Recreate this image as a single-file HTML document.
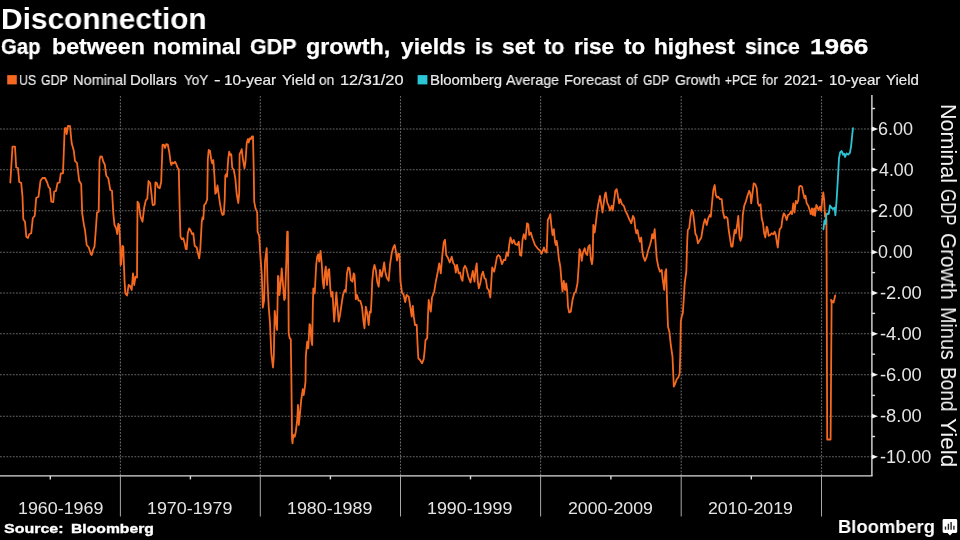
<!DOCTYPE html>
<html><head><meta charset="utf-8">
<style>
html,body{margin:0;padding:0;background:#000;}
body{width:960px;height:540px;position:relative;overflow:hidden;font-family:"Liberation Sans",sans-serif;color:#fff;}
.t{will-change:transform;position:absolute;white-space:nowrap;line-height:1;transform-origin:0 0;display:block;}
svg{position:absolute;left:0;top:0;}
.stk{-webkit-text-stroke:0.35px #fff;}
.lg{-webkit-text-stroke:0.2px #ececec;}
.sb{-webkit-text-stroke:0.25px #fff;}
</style></head><body>
<svg id="chart" width="960" height="540" viewBox="0 0 960 540">
<g stroke="#666" stroke-width="1.1" stroke-dasharray="1.8 1.4" fill="none"><line x1="0" y1="129.0" x2="871.9" y2="129.0"/><line x1="0" y1="169.7" x2="871.9" y2="169.7"/><line x1="0" y1="210.7" x2="871.9" y2="210.7"/><line x1="0" y1="252.2" x2="871.9" y2="252.2"/><line x1="0" y1="293.0" x2="871.9" y2="293.0"/><line x1="0" y1="333.8" x2="871.9" y2="333.8"/><line x1="0" y1="374.7" x2="871.9" y2="374.7"/><line x1="0" y1="416.2" x2="871.9" y2="416.2"/><line x1="0" y1="456.8" x2="871.9" y2="456.8"/><line x1="120.4" y1="96" x2="120.4" y2="475.9"/><line x1="260.3" y1="96" x2="260.3" y2="475.9"/><line x1="400.5" y1="96" x2="400.5" y2="475.9"/><line x1="540.6" y1="96" x2="540.6" y2="475.9"/><line x1="681.2" y1="96" x2="681.2" y2="475.9"/><line x1="821.5" y1="96" x2="821.5" y2="475.9"/></g>
<g stroke="#dcdcdc" stroke-width="1.4" fill="none"><line x1="0" y1="475.9" x2="872.5" y2="475.9"/><line x1="871.9" y1="95" x2="871.9" y2="475.9"/><line x1="871.9" y1="108.5" x2="875.1" y2="108.5"/><line x1="871.9" y1="149.3" x2="875.1" y2="149.3"/><line x1="871.9" y1="190.2" x2="875.1" y2="190.2"/><line x1="871.9" y1="231.4" x2="875.1" y2="231.4"/><line x1="871.9" y1="272.6" x2="875.1" y2="272.6"/><line x1="871.9" y1="313.4" x2="875.1" y2="313.4"/><line x1="871.9" y1="354.2" x2="875.1" y2="354.2"/><line x1="871.9" y1="395.4" x2="875.1" y2="395.4"/><line x1="871.9" y1="436.5" x2="875.1" y2="436.5"/><line x1="50.3" y1="475.9" x2="50.3" y2="479.4"/><line x1="190.4" y1="475.9" x2="190.4" y2="479.4"/><line x1="330.4" y1="475.9" x2="330.4" y2="479.4"/><line x1="470.5" y1="475.9" x2="470.5" y2="479.4"/><line x1="610.9" y1="475.9" x2="610.9" y2="479.4"/><line x1="751.3" y1="475.9" x2="751.3" y2="479.4"/></g>
<g stroke="#a8a8a8" stroke-width="1" fill="none"><line x1="120.4" y1="475.9" x2="120.4" y2="516.5"/><line x1="260.3" y1="475.9" x2="260.3" y2="516.5"/><line x1="400.5" y1="475.9" x2="400.5" y2="516.5"/><line x1="540.6" y1="475.9" x2="540.6" y2="516.5"/><line x1="681.2" y1="475.9" x2="681.2" y2="516.5"/><line x1="821.5" y1="475.9" x2="821.5" y2="516.5"/></g>
<g fill="#f4f4f4" stroke="none"><path d="M871.9 126.6 L878.1 129.0 L871.9 131.4 Z"/><path d="M871.9 167.29999999999998 L878.1 169.7 L871.9 172.1 Z"/><path d="M871.9 208.29999999999998 L878.1 210.7 L871.9 213.1 Z"/><path d="M871.9 249.79999999999998 L878.1 252.2 L871.9 254.6 Z"/><path d="M871.9 290.6 L878.1 293.0 L871.9 295.4 Z"/><path d="M871.9 331.40000000000003 L878.1 333.8 L871.9 336.2 Z"/><path d="M871.9 372.3 L878.1 374.7 L871.9 377.09999999999997 Z"/><path d="M871.9 413.8 L878.1 416.2 L871.9 418.59999999999997 Z"/><path d="M871.9 454.40000000000003 L878.1 456.8 L871.9 459.2 Z"/></g>
<path d="M10.3,182.5 L12.5,146.7 L15,146.7 L16.2,167.5 L18,168 L19.2,182 L21.2,182.8 L22.5,196.7 L23.3,219.2 L25,221.7 L26.3,236.7 L28,238 L29.2,234.2 L31.2,233.3 L32.8,218.3 L34.7,215.8 L36.2,198 L38.5,196.7 L40.5,180.8 L42.5,178 L45,178 L47.2,182.5 L48.5,186.8 L50,188.5 L51.3,201.7 L53.3,202 L54.2,191.5 L56,190.8 L57.5,183.2 L59.5,182.5 L60.8,173.3 L63,173.3 L64.7,128.3 L65.8,128 L66.7,134.2 L68,125.8 L70,126.2 L71.7,143.3 L73.8,150.8 L75,160.8 L77,163 L79.2,180.8 L81.2,184.2 L82.2,213.3 L83.8,224.2 L85,230 L86.7,245 L88.8,247.5 L90.8,254.2 L91.7,255 L93,250 L94.5,246.7 L95.8,230 L97,212.5 L98.7,211.7 L99.5,160 L100.5,156.3 L102,156.7 L103.3,161.7 L104.7,164.2 L106.3,175.8 L108.3,178.3 L110.3,190 L112,190.8 L113.3,213.3 L114.5,225 L116.2,228.3 L117.2,234.2 L118.3,223.7 L119.2,225 L120.3,246.7 L120.6,265 L121.2,264.2 L122.5,245.8 L123.3,246.7 L124.5,280 L125.3,293.3 L127,295.5 L128.7,285 L130,285.8 L131.7,290 L133,273.3 L134.2,285 L135.5,276.7 L137,277.5 L137.5,201.7 L138.7,203.3 L140.5,216.7 L142.5,221.7 L144.2,207.5 L145.8,200.4 L147.3,198.7 L148.5,181 L150.2,183 L151.7,196 L152.5,204 L153,205.3 L154.7,204.5 L155.4,182.5 L156.7,182.8 L158,187.3 L159.7,188.3 L161.2,181.7 L162.5,145 L163.8,144.7 L165,148 L166.2,144.2 L167.8,144.7 L169.2,151.7 L170.5,161.7 L171.3,165 L172.5,162.5 L173.8,163.3 L175,161.7 L176.3,164.2 L177.5,167.5 L178.8,169.2 L179.7,210 L180.5,236.7 L181.7,239.2 L183.3,238.3 L184.7,243.3 L185.8,249.2 L186.7,249.2 L187.8,233.3 L189.2,228.3 L190.8,230.8 L192.2,234.2 L193.3,233.3 L194.7,245.8 L196.7,247.5 L197.8,252.5 L199.2,258.3 L200.3,249.2 L201.7,222.5 L202.5,217.5 L203.3,219.2 L204.2,205 L205.8,203.3 L207.2,199.2 L207.8,160 L208.7,150 L210,150.8 L211.3,160 L212.2,163.3 L213.3,160 L214.5,176.7 L215.3,193.8 L216.2,192.5 L217.5,185.5 L218.3,191.7 L219.7,201.7 L221.2,210.8 L222.5,215 L223.8,214.2 L224.7,200 L225.3,175.8 L226.2,174.2 L227,176.7 L228.3,158.3 L229.2,151.7 L230.3,155 L231.3,154.2 L232.2,167.5 L233.8,170 L235.3,178.3 L236.7,194 L238.3,203 L239.2,193.3 L239.6,154.2 L240.5,152.5 L241.7,149.2 L242.8,158.3 L244.5,168.3 L245.5,161.7 L246.7,143.3 L247.8,139.2 L248.7,142.5 L249.7,138.3 L250.8,139.2 L252,136.3 L253,136.3 L253.7,168.3 L254.2,201.7 L255.5,208.3 L257.2,212.5 L257.6,231.7 L259.2,236 L260.2,253 L261.8,275 L262.8,307.5 L264.2,300 L265,261.7 L266.7,248.2 L267.5,281.7 L268.7,306.7 L270,323.3 L271.3,353.3 L273,367.5 L273.8,356.7 L274.7,310.8 L275.8,320 L277,330 L277.6,300 L278,275.8 L278.5,276.7 L279.5,295 L280.8,281.7 L281.7,268.3 L282.8,281.7 L284.2,300 L285,298.3 L286.2,265 L287.2,231.7 L287.8,231.7 L288.5,300 L288.7,333.3 L289.7,338.3 L290.8,339.2 L291.4,380 L291.7,406.7 L292,438.3 L292.5,443.3 L293.3,435 L294.7,436.7 L295.8,431.7 L297.2,420 L298,405 L298.8,425 L300,413.3 L301.2,400 L302.2,393.3 L302.8,389.2 L303.7,395 L304.7,388.3 L305.5,381.7 L305.8,356.7 L307.2,341.7 L308.3,348.3 L309.5,324.2 L310.3,325 L311.3,340 L312.2,345 L312.8,306.7 L313.3,288.5 L314.7,293.5 L316.2,265 L317.2,256.7 L318.3,254.2 L319.2,261.7 L320.5,250.8 L321.7,263.3 L322.8,281.7 L323.8,288.3 L325,271.7 L325.8,266.7 L327,285 L328.3,270 L329.2,269.2 L330.3,288.3 L331.3,296.7 L332.5,292 L333.3,306.7 L334.2,321.7 L335.3,306.7 L336.3,292.5 L337.5,306.7 L338.7,321.7 L340,315 L341.7,303.3 L343,295 L344.7,290 L345.8,291.7 L347,273.3 L348.3,267.5 L349.5,268.3 L350.8,280 L352.5,281.7 L353.7,273.3 L354.5,275 L355.3,288.3 L355.8,299.2 L357,295 L358.5,300.5 L360.3,300.8 L362,306.7 L363.3,320 L364.5,328.3 L365.8,306.7 L367.2,313.3 L368.7,325 L369.7,311.7 L370.8,312.5 L371.6,298.3 L372.2,281.7 L373.3,270 L374.5,265 L375.8,270 L377.2,281.7 L378.7,286.7 L380,270 L381.7,276.7 L383,270 L384.2,262.5 L385.3,271.7 L386.7,277.5 L388.7,280.8 L390,265 L391.7,253.3 L393.3,247.5 L394.7,245 L395.8,250.8 L397,260.5 L398.2,253.8 L399.5,254.2 L400.5,281.7 L402,292.5 L403.7,295 L405.2,302 L406.6,295 L408.7,296.7 L410.3,306.7 L411.7,316.7 L412.8,305.8 L413.8,316.7 L415,325 L416.7,325 L417.5,343.3 L418.3,358.3 L420,360 L422,363.3 L423.7,359.2 L424.7,350 L425.5,340 L427.2,338.3 L428,315 L428.7,300 L430,308.3 L430.8,311.7 L432,297.5 L434.2,291.7 L435.8,281.7 L437.8,271.7 L439.2,263.3 L440.8,273.3 L442.2,256.7 L443.7,242.5 L445,239.7 L446.2,255 L447.8,257.5 L449.7,262.5 L451.7,256.7 L453.3,263.3 L454.7,265 L455.8,272.5 L457,265 L458.7,273.3 L460,272.5 L461.3,278.3 L462.5,280.8 L463.7,268.3 L465,265.8 L466.3,268.3 L468.3,276.7 L470.5,282.5 L472,275 L472.8,270.8 L474.5,281.7 L475.5,270 L476.7,263.3 L477.8,281.7 L478.8,288.3 L480.3,283.3 L481.7,275 L483,271.7 L484.5,278.3 L485.8,279.2 L487.2,288.3 L488.7,290 L490.3,297.5 L491.3,281.7 L492.2,267.5 L494.2,271.7 L495.8,263.3 L497,256.7 L498.3,255 L500,256.7 L502,264.2 L503.7,260 L505.3,260 L506.7,252.5 L508,255.8 L509.2,245 L510.5,237.5 L512.2,243.3 L513.8,240 L515.3,244.2 L517.2,245 L518.8,241.7 L520,255 L521.3,255.8 L522.5,240 L523.8,234.2 L525.5,239.2 L527,223.3 L528.3,224.2 L529.2,235 L530.8,232.5 L532.5,238.3 L535,245 L537.5,248.3 L540,250.6 L541.7,253.8 L544,247.5 L545,250.8 L546.7,252.5 L547.8,220 L549.2,217.5 L550.3,214.2 L551.3,225 L552.5,235 L553.8,229.2 L555,241.7 L555.8,245 L556.7,240.8 L557.8,248.3 L558.8,258.3 L560.3,266.7 L561.7,283.3 L562.5,291.7 L563.8,280.8 L565,290 L566.2,283.3 L567.2,291.7 L568,306.7 L569.2,312.5 L570.8,311.7 L572.5,300 L574.2,293.3 L575.8,291.7 L577.5,283.3 L578.7,266 L579.5,249.2 L580.5,251.7 L581.7,260.8 L583,252.5 L584.7,248.3 L585.8,253.3 L587.2,255 L588.3,246.7 L589.7,245 L590.8,258.8 L592,264.2 L592.7,258.3 L593.3,225 L594.7,232.5 L595.8,223.3 L597,212.5 L598.3,204.2 L600,195.8 L601.2,204.2 L602.5,212.5 L603.7,203.3 L605,194.2 L605.8,192.5 L607.2,202.5 L608.7,205.8 L610,210.5 L611.7,205.8 L612.8,210.5 L614.2,200 L615.3,190.8 L616.7,189.2 L618,196.7 L619.2,203.3 L620.3,199.2 L622,204.2 L623.8,205.8 L625.5,210.8 L627.5,215 L629.2,219.2 L631.3,223.3 L633,215.8 L634.2,218.3 L635.3,228.3 L636.3,233.3 L637.5,230 L638.7,236.7 L640,241.7 L641.2,237.5 L642.2,250 L643.3,256.7 L645,260.8 L646.7,256.7 L648.3,250 L650,245 L651.3,240 L652.2,234.2 L653.3,238.3 L654.7,229.2 L655.5,241.7 L656.7,258.3 L658.3,266.7 L660,271.7 L661.7,270 L662.8,280 L664.2,290 L665.3,271.7 L666.2,269.2 L667,300 L668,326.7 L669.4,331.7 L670.8,345 L672.5,356.7 L673.3,375 L673.8,386.7 L675,384.2 L676.7,379.2 L678.3,377.5 L679.7,373.3 L680.3,353.3 L680.8,321.7 L681.7,316.7 L682.8,313.3 L683.7,300 L684.7,283.3 L686.3,271.7 L687.2,241.7 L687.8,230 L689.2,228.3 L690.5,216.7 L691.7,210 L693,212.5 L694.2,222 L695.4,233.8 L696.7,236.2 L697.9,243.3 L699.5,240.5 L701.3,237.5 L702.5,230 L703.7,223.3 L705,219.2 L706.7,225 L708,219.2 L709.7,215 L710.8,216.7 L712,203.3 L713.3,190 L714.7,185 L715.8,195 L717.2,197.5 L718.3,196.7 L720,199.2 L721.7,199.2 L723,211.7 L724.5,218.3 L725.8,216.7 L727.5,218.3 L728.7,230 L730,238.3 L731.3,246.7 L732.5,246.7 L733.7,236.7 L734.7,230 L735.8,233.3 L737.2,225 L738.3,215.8 L739.5,236.7 L740.5,240.8 L741.7,236.7 L742.8,215 L744.2,205.8 L745.8,201.7 L747.5,195.8 L749.2,190.8 L750.3,193.3 L751.2,203.3 L752.5,193.3 L753.7,183.3 L755.3,184.2 L756.7,188.3 L758,203.3 L759.2,205.8 L760.5,204.2 L761.7,218.3 L763,223.3 L764.2,233.3 L765.3,237.5 L766.7,226.7 L767.5,228.3 L768.7,235.8 L770.3,235 L771.7,233.3 L773.3,234.2 L774.7,231.7 L775.8,235 L777,243.3 L777.8,247.5 L778.8,236.7 L779.7,229.2 L781.3,227.5 L782.5,218.3 L783.8,213.3 L785.3,215.8 L786.7,220 L788,215 L789.5,214.2 L790.8,211.7 L792,214.2 L793.3,203.3 L794.5,212.5 L795.8,200.8 L797.2,203.3 L798.3,200 L799.2,186.7 L800.5,185.8 L802,186.7 L803.3,193.3 L804.5,198.3 L805.5,195.8 L806.7,203.3 L808.3,205.8 L809.7,210 L810.8,214.2 L812,208.3 L813,215 L814.2,208.3 L815,215.8 L816.3,205 L817.5,207.5 L818.7,210 L820,206.7 L821.2,210.8 L822.2,200 L823.3,192.5 L824.2,200 L825,216.7 L825.8,213.3 L826.5,220 L827.2,439.5 L830.6,439.5 L831.6,303 L831,300 L832.6,301.5 L833.6,302.5 L835.2,295.5" fill="none" stroke="#f5681f" stroke-width="1.8" stroke-linejoin="round" stroke-linecap="round"/>
<path d="M823.4,229.3 L824.5,220.5 L825.5,224 L826.4,215 L827.5,213.5 L828.7,214 L830,205.5 L831.3,207.5 L833,209 L834.6,207.8 L835.4,215.3 L836.6,200 L837.8,180 L839,158.2 L840.2,152.2 L841.7,151 L842.9,154.6 L843.9,153.4 L845.1,157 L846.5,153.4 L848.2,154.6 L849.9,152.9 L851.1,146.1 L852.3,134.1 L853,128.1" fill="none" stroke="#2cc5d6" stroke-width="1.8" stroke-linejoin="round" stroke-linecap="round"/>
<rect x="7.2" y="75.1" width="9.6" height="9.3" fill="#f5681f"/>
<rect x="417.6" y="75.1" width="9.8" height="9.3" fill="#2cc5d6"/>
<g id="bbicon" transform="translate(942.6,519)"><path d="M1.4 0h11.8a1.4 1.4 0 0 1 1.4 1.4v11.2a1.4 1.4 0 0 1-1.4 1.4h-3.4l-2.4 2.4l-2.4-2.4h-3.6a1.4 1.4 0 0 1-1.4-1.4v-11.2a1.4 1.4 0 0 1 1.4-1.4z" fill="#fff"/><path d="M2.9 10.8v-3.3M5.8 10.8v-6.1M8.5 10.8v-7.7M11.3 10.8v-4.1" stroke="#222" stroke-width="1.4" fill="none"/></g>
</svg>
<span class="t " style="left:0.73px;top:4.11px;font-size:30px;font-weight:bold;color:#fff;transform:scaleX(0.9953)">Disconnection</span>
<span class="t sb" style="left:1.17px;top:36.21px;font-size:22.2px;font-weight:bold;color:#fff;transform:scaleX(0.9176)">Gap</span>
<span class="t sb" style="left:51.54px;top:36.21px;font-size:22.2px;font-weight:bold;color:#fff;transform:scaleX(1.0458)">between</span>
<span class="t sb" style="left:153.05px;top:36.21px;font-size:22.2px;font-weight:bold;color:#fff;transform:scaleX(1.0349)">nominal</span>
<span class="t sb" style="left:249.63px;top:36.21px;font-size:22.2px;font-weight:bold;color:#fff;transform:scaleX(0.9677)">GDP</span>
<span class="t sb" style="left:306.05px;top:36.21px;font-size:22.2px;font-weight:bold;color:#fff;transform:scaleX(1.0517)">growth,</span>
<span class="t sb" style="left:401.20px;top:36.21px;font-size:22.2px;font-weight:bold;color:#fff;transform:scaleX(1.0276)">yields</span>
<span class="t sb" style="left:474.84px;top:36.21px;font-size:22.2px;font-weight:bold;color:#fff;transform:scaleX(0.9711)">is</span>
<span class="t sb" style="left:501.78px;top:36.21px;font-size:22.2px;font-weight:bold;color:#fff;transform:scaleX(1.0259)">set</span>
<span class="t sb" style="left:543.61px;top:36.21px;font-size:22.2px;font-weight:bold;color:#fff;transform:scaleX(0.9652)">to</span>
<span class="t sb" style="left:573.58px;top:36.21px;font-size:22.2px;font-weight:bold;color:#fff;transform:scaleX(1.0173)">rise</span>
<span class="t sb" style="left:623.60px;top:36.21px;font-size:22.2px;font-weight:bold;color:#fff;transform:scaleX(1.0054)">to</span>
<span class="t sb" style="left:653.97px;top:36.21px;font-size:22.2px;font-weight:bold;color:#fff;transform:scaleX(1.0227)">highest</span>
<span class="t sb" style="left:744.83px;top:36.21px;font-size:22.2px;font-weight:bold;color:#fff;transform:scaleX(0.9635)">since</span>
<span class="t sb" style="left:810.46px;top:36.21px;font-size:22.2px;font-weight:bold;color:#fff;transform:scaleX(1.1829)">1966</span>
<span class="t lg" style="left:19.49px;top:72.77px;font-size:14.8px;color:#ececec;transform:scaleX(0.8303)">US</span>
<span class="t lg" style="left:41.42px;top:72.77px;font-size:14.8px;color:#ececec;transform:scaleX(0.8333)">GDP</span>
<span class="t lg" style="left:72.62px;top:72.77px;font-size:14.8px;color:#ececec;transform:scaleX(0.9828)">Nominal</span>
<span class="t lg" style="left:130.08px;top:72.77px;font-size:14.8px;color:#ececec;transform:scaleX(1.0145)">Dollars</span>
<span class="t lg" style="left:183.53px;top:72.77px;font-size:14.8px;color:#ececec;transform:scaleX(0.9100)">YoY</span>
<span class="t lg" style="left:213.69px;top:72.77px;font-size:14.8px;color:#ececec;transform:scaleX(1.3514)">-</span>
<span class="t lg" style="left:224.36px;top:72.77px;font-size:14.8px;color:#ececec;transform:scaleX(1.0399)">10-year</span>
<span class="t lg" style="left:281.69px;top:72.77px;font-size:14.8px;color:#ececec;transform:scaleX(1.0215)">Yield</span>
<span class="t lg" style="left:319.45px;top:72.77px;font-size:14.8px;color:#ececec;transform:scaleX(0.9242)">on</span>
<span class="t lg" style="left:340.09px;top:72.77px;font-size:14.8px;color:#ececec;transform:scaleX(1.1022)">12/31/20</span>
<span class="t lg" style="left:430.09px;top:72.77px;font-size:14.8px;color:#ececec;transform:scaleX(1.0081)">Bloomberg</span>
<span class="t lg" style="left:506.30px;top:72.77px;font-size:14.8px;color:#ececec;transform:scaleX(0.9682)">Average</span>
<span class="t lg" style="left:564.31px;top:72.77px;font-size:14.8px;color:#ececec;transform:scaleX(0.9900)">Forecast</span>
<span class="t lg" style="left:626.44px;top:72.77px;font-size:14.8px;color:#ececec;transform:scaleX(0.9298)">of</span>
<span class="t lg" style="left:643.43px;top:72.77px;font-size:14.8px;color:#ececec;transform:scaleX(0.8170)">GDP</span>
<span class="t lg" style="left:674.64px;top:72.77px;font-size:14.8px;color:#ececec;transform:scaleX(0.9485)">Growth</span>
<span class="t lg" style="left:724.73px;top:72.77px;font-size:14.8px;color:#ececec;transform:scaleX(0.8121)">+PCE</span>
<span class="t lg" style="left:761.71px;top:72.77px;font-size:14.8px;color:#ececec;transform:scaleX(0.9262)">for</span>
<span class="t lg" style="left:783.98px;top:72.77px;font-size:14.8px;color:#ececec;transform:scaleX(1.0267)">2021-</span>
<span class="t lg" style="left:828.87px;top:72.77px;font-size:14.8px;color:#ececec;transform:scaleX(1.0235)">10-year</span>
<span class="t lg" style="left:885.99px;top:72.77px;font-size:14.8px;color:#ececec;transform:scaleX(1.0183)">Yield</span>
<span class="t stk" style="left:4.35px;top:521.89px;font-size:13.6px;font-weight:bold;color:#fff;transform:scaleX(1.1770)">Source:</span>
<span class="t stk" style="left:70.66px;top:521.89px;font-size:13.6px;font-weight:bold;color:#fff;transform:scaleX(1.1548)">Bloomberg</span>
<span class="t " style="left:837.85px;top:516.75px;font-size:19.2px;font-weight:bold;color:#fff;transform:scaleX(0.9575)">Bloomberg</span>
<span class="t " style="left:878.09px;top:120.93px;font-size:17.8px;color:#e4e4e4;transform:scaleX(1.0137)">6.00</span>
<span class="t " style="left:878.60px;top:161.63px;font-size:17.8px;color:#e4e4e4;transform:scaleX(0.9987)">4.00</span>
<span class="t " style="left:878.19px;top:202.63px;font-size:17.8px;color:#e4e4e4;transform:scaleX(1.0107)">2.00</span>
<span class="t " style="left:878.40px;top:244.13px;font-size:17.8px;color:#e4e4e4;transform:scaleX(1.0047)">0.00</span>
<span class="t " style="left:880.28px;top:284.93px;font-size:17.8px;color:#e4e4e4;transform:scaleX(1.0313)">-2.00</span>
<span class="t " style="left:880.28px;top:325.73px;font-size:17.8px;color:#e4e4e4;transform:scaleX(1.0313)">-4.00</span>
<span class="t " style="left:880.28px;top:366.63px;font-size:17.8px;color:#e4e4e4;transform:scaleX(1.0313)">-6.00</span>
<span class="t " style="left:880.28px;top:408.13px;font-size:17.8px;color:#e4e4e4;transform:scaleX(1.0313)">-8.00</span>
<span class="t " style="left:880.29px;top:448.73px;font-size:17.8px;color:#e4e4e4;transform:scaleX(1.0168)">-10.00</span>
<span class="t " style="left:17.66px;top:499.76px;font-size:17.3px;color:#e4e4e4;transform:scaleX(1.0333)">1960-1969</span>
<span class="t " style="left:147.46px;top:499.76px;font-size:17.3px;color:#e4e4e4;transform:scaleX(1.0333)">1970-1979</span>
<span class="t " style="left:287.46px;top:499.76px;font-size:17.3px;color:#e4e4e4;transform:scaleX(1.0333)">1980-1989</span>
<span class="t " style="left:427.46px;top:499.76px;font-size:17.3px;color:#e4e4e4;transform:scaleX(1.0333)">1990-1999</span>
<span class="t " style="left:568.48px;top:499.76px;font-size:17.3px;color:#e4e4e4;transform:scaleX(1.0270)">2000-2009</span>
<span class="t " style="left:708.48px;top:499.76px;font-size:17.3px;color:#e4e4e4;transform:scaleX(1.0270)">2010-2019</span>
<span class="t" style="left:958.32px;top:103.99px;font-size:21.4px;color:#f2f2f2;transform:rotate(90deg) scaleX(1.0074)">Nominal</span>
<span class="t" style="left:958.32px;top:188.71px;font-size:21.4px;color:#f2f2f2;transform:rotate(90deg) scaleX(0.7878)">GDP</span>
<span class="t" style="left:958.32px;top:233.43px;font-size:21.4px;color:#f2f2f2;transform:rotate(90deg) scaleX(0.9674)">Growth</span>
<span class="t" style="left:958.32px;top:306.62px;font-size:21.4px;color:#f2f2f2;transform:rotate(90deg) scaleX(0.9271)">Minus</span>
<span class="t" style="left:958.32px;top:366.69px;font-size:21.4px;color:#f2f2f2;transform:rotate(90deg) scaleX(0.8898)">Bond</span>
<span class="t" style="left:958.32px;top:417.78px;font-size:21.4px;color:#f2f2f2;transform:rotate(90deg) scaleX(1.0512)">Yield</span>

</body></html>
